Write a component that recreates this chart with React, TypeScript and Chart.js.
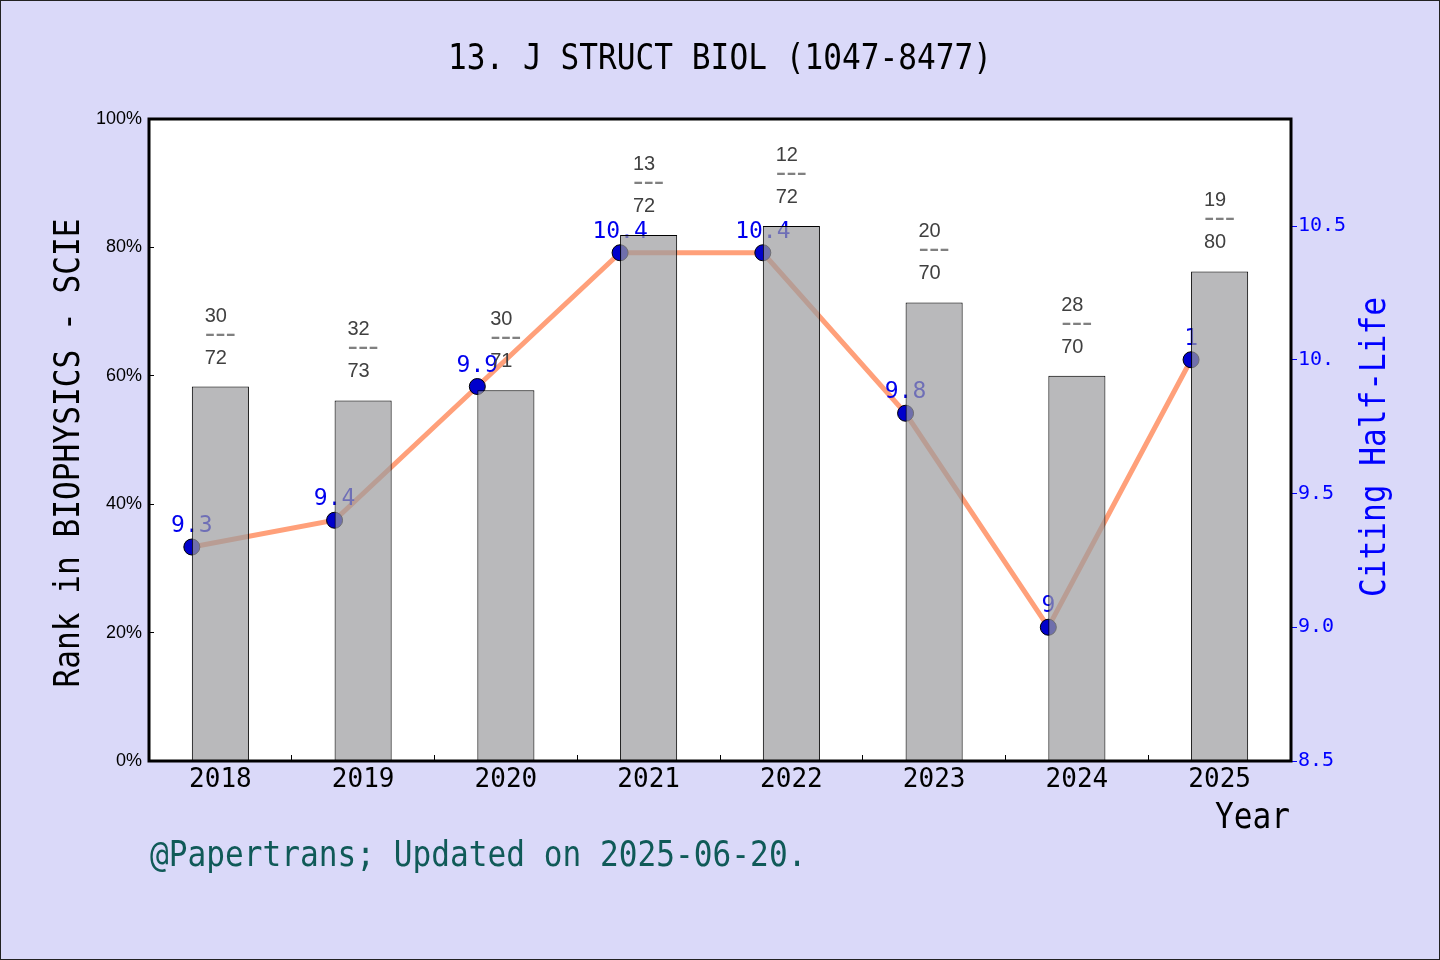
import React, { useEffect, useRef } from "react";
import { Chart, registerables } from "chart.js";

Chart.register(...registerables);

// ---------- data ----------
const YEARS = ["2018", "2019", "2020", "2021", "2022", "2023", "2024", "2025"];
const RANKS = [30, 32, 30, 13, 12, 20, 28, 19];
const TOTALS = [72, 73, 71, 72, 72, 70, 70, 80];
const HALF_LIFE = [9.3, 9.4, 9.9, 10.4, 10.4, 9.8, 9.0, 10.0];
const HALF_LIFE_LABELS = ["9.3", "9.4", "9.9", "10.4", "10.4", "9.8", "9", "1"];
const LEFT_TICKS = [0, 0.2, 0.4, 0.6, 0.8, 1.0];
const LEFT_TICK_LABELS = ["0%", "20%", "40%", "60%", "80%", "100%"];
const RIGHT_TICKS = [8.5, 9.0, 9.5, 10.0, 10.5];
const RIGHT_TICK_LABELS = ["8.5", "9.0", "9.5", "10.", "10.5"];
const TITLE = "13. J STRUCT BIOL (1047-8477)";
const Y_TITLE = "Rank in BIOPHYSICS - SCIE";
const Y1_TITLE = "Citing Half-Life";
const X_TITLE = "Year";
const FOOTER = "@Papertrans; Updated on 2025-06-20.";

// ---------- style ----------
const BG = "#dad9f9";
const MONO = "'DejaVu Sans Mono'";
const BLUE = "#0000ee";
const BAR_FILL = "rgba(157,157,159,0.71)";
const LINE_COLOR = "#ffa07a";
const LINE_X_SHIFT = -0.2; // line points sit at the bar's left edge
const BAR_FRACTION = 0.4;

function bigText(
  ctx: CanvasRenderingContext2D,
  text: string,
  x: number,
  y: number,
  color: string,
  align: CanvasTextAlign,
  rotate = 0
) {
  ctx.save();
  ctx.translate(x, y);
  if (rotate) ctx.rotate(rotate);
  ctx.scale(0.89, 1);
  ctx.font = `35px ${MONO}`;
  ctx.fillStyle = color;
  ctx.textAlign = align;
  ctx.textBaseline = "alphabetic";
  ctx.fillText(text, 0, 0);
  ctx.restore();
}

const decorPlugin = {
  id: "decor",
  beforeDraw(chart: any) {
    const { ctx, chartArea } = chart;
    ctx.save();
    ctx.fillStyle = BG;
    ctx.fillRect(0, 0, chart.width, chart.height);
    ctx.strokeStyle = "#222";
    ctx.lineWidth = 1;
    ctx.strokeRect(0.5, 0.5, chart.width - 1, chart.height - 1);
    ctx.fillStyle = "#ffffff";
    ctx.fillRect(chartArea.left, chartArea.top, chartArea.right - chartArea.left, chartArea.bottom - chartArea.top);
    ctx.restore();
  },
  afterDatasetDraw(chart: any, args: any) {
    if (args.index !== 1) return;
    const { ctx } = chart;
    const meta = chart.getDatasetMeta(1);
    ctx.save();
    ctx.font = `23px ${MONO}`;
    ctx.fillStyle = BLUE;
    ctx.textAlign = "center";
    ctx.textBaseline = "alphabetic";
    meta.data.forEach((pt: any, i: number) => {
      ctx.fillText(HALF_LIFE_LABELS[i], pt.x, pt.y - 15);
    });
    ctx.restore();
  },
  afterDatasetsDraw(chart: any) {
    const { ctx } = chart;
    const meta = chart.getDatasetMeta(0);
    ctx.save();
    ctx.textBaseline = "alphabetic";
    ctx.textAlign = "left";
    meta.data.forEach((bar: any, i: number) => {
      const top = String(RANKS[i]);
      const bottom = String(TOTALS[i]);
      ctx.font = "29px 'DejaVu Sans'";
      const dashW = ctx.measureText("---").width;
      ctx.font = "20px 'Liberation Sans'";
      const w = Math.max(dashW, ctx.measureText(top).width, ctx.measureText(bottom).width);
      const left = bar.x - w / 2;
      const base = bar.y - 23;
      ctx.fillStyle = "#404040";
      ctx.fillText(top, left, base - 42);
      ctx.fillText(bottom, left, base);
      ctx.font = "29px 'DejaVu Sans'";
      ctx.fillStyle = "#808080";
      ctx.fillText("---", left, base - 21);
    });
    ctx.restore();
  },
  afterDraw(chart: any) {
    const { ctx, chartArea } = chart;
    ctx.save();
    ctx.strokeStyle = "#000";
    ctx.lineWidth = 3;
    ctx.strokeRect(chartArea.left, chartArea.top, chartArea.right - chartArea.left, chartArea.bottom - chartArea.top);
    ctx.restore();
    bigText(ctx, TITLE, 720, 69, "#000", "center");
    bigText(ctx, Y_TITLE, 79, 453, "#000", "center", -Math.PI / 2);
    bigText(ctx, Y1_TITLE, 1385, 447, "#0000ff", "center", -Math.PI / 2);
    bigText(ctx, X_TITLE, 1290, 828, "#000", "right");
    bigText(ctx, FOOTER, 150, 866, "#105a58", "left");
  },
};

export default function App() {
  const ref = useRef<HTMLCanvasElement>(null);
  useEffect(() => {
    document.body.style.margin = "0";
    document.body.style.overflow = "hidden";
    const barData = RANKS.map((r, i) => 1 - r / TOTALS[i]);
    const lineData = HALF_LIFE.map((v, i) => ({ x: i + LINE_X_SHIFT, y: v }));
    const chart = new Chart(ref.current as HTMLCanvasElement, {
      type: "bar",
      data: {
        labels: YEARS,
        datasets: [
          {
            type: "bar",
            data: barData,
            xAxisID: "x",
            yAxisID: "y",
            backgroundColor: BAR_FILL,
            borderColor: "#000",
            borderWidth: 1,
            barPercentage: BAR_FRACTION,
            categoryPercentage: 1,
            grouped: false,
            order: 0,
          } as any,
          {
            type: "line",
            data: lineData,
            xAxisID: "xl",
            yAxisID: "y1",
            borderColor: LINE_COLOR,
            borderWidth: 5,
            pointRadius: 8,
            pointBackgroundColor: "#0000cc",
            pointBorderColor: "#000",
            pointBorderWidth: 1,
            tension: 0,
            order: 1,
          } as any,
        ],
      },
      options: {
        responsive: false,
        animation: false,
        devicePixelRatio: 1,
        layout: { padding: { top: 119, left: 0, right: 0, bottom: 0 } },
        plugins: { legend: { display: false }, tooltip: { enabled: false }, title: { display: false } },
        scales: {
          x: {
            type: "category",
            position: "bottom",
            offset: true,
            grid: { display: true, offset: true, drawOnChartArea: false, drawTicks: true, tickLength: -6, color: "#000", lineWidth: 1 },
            border: { display: false },
            ticks: { color: "#000", font: { family: MONO, size: 26 }, padding: 10, maxRotation: 0, autoSkip: false },
            afterFit(s: any) {
              s.height = 199;
            },
          },
          xl: {
            type: "linear",
            display: false,
            position: "bottom",
            offset: false,
            grid: { offset: false },
            min: -0.5,
            max: YEARS.length - 0.5,
          },
          y: {
            type: "linear",
            position: "left",
            min: 0,
            max: 1,
            afterBuildTicks(s: any) {
              s.ticks = LEFT_TICKS.map((v) => ({ value: v }));
            },
            ticks: {
              color: "#000",
              font: { family: "'Liberation Sans'", size: 18 },
              padding: 12,
              callback: (v: any) => LEFT_TICK_LABELS[LEFT_TICKS.indexOf(Number(v))],
            },
            grid: { drawOnChartArea: false, drawTicks: true, tickLength: -5, color: "#000" },
            border: { display: false },
            afterFit(s: any) {
              s.width = 149;
            },
          },
          y1: {
            type: "linear",
            position: "right",
            min: 8.5,
            max: 10.9,
            afterBuildTicks(s: any) {
              s.ticks = RIGHT_TICKS.map((v) => ({ value: v }));
            },
            ticks: {
              color: "#0000ff",
              font: { family: MONO, size: 20 },
              padding: 1,
              callback: (v: any) => RIGHT_TICK_LABELS[RIGHT_TICKS.indexOf(Number(v))],
            },
            grid: { drawOnChartArea: false, drawTicks: true, tickLength: 6, color: "#0000ff" },
            border: { display: false },
            afterFit(s: any) {
              s.width = 149;
            },
          },
        },
      } as any,
      plugins: [decorPlugin],
    });
    return () => chart.destroy();
  }, []);
  return (
    <div style={{ width: 1440, height: 960 }}>
      <canvas ref={ref} width={1440} height={960} style={{ display: "block" }} />
    </div>
  );
}
